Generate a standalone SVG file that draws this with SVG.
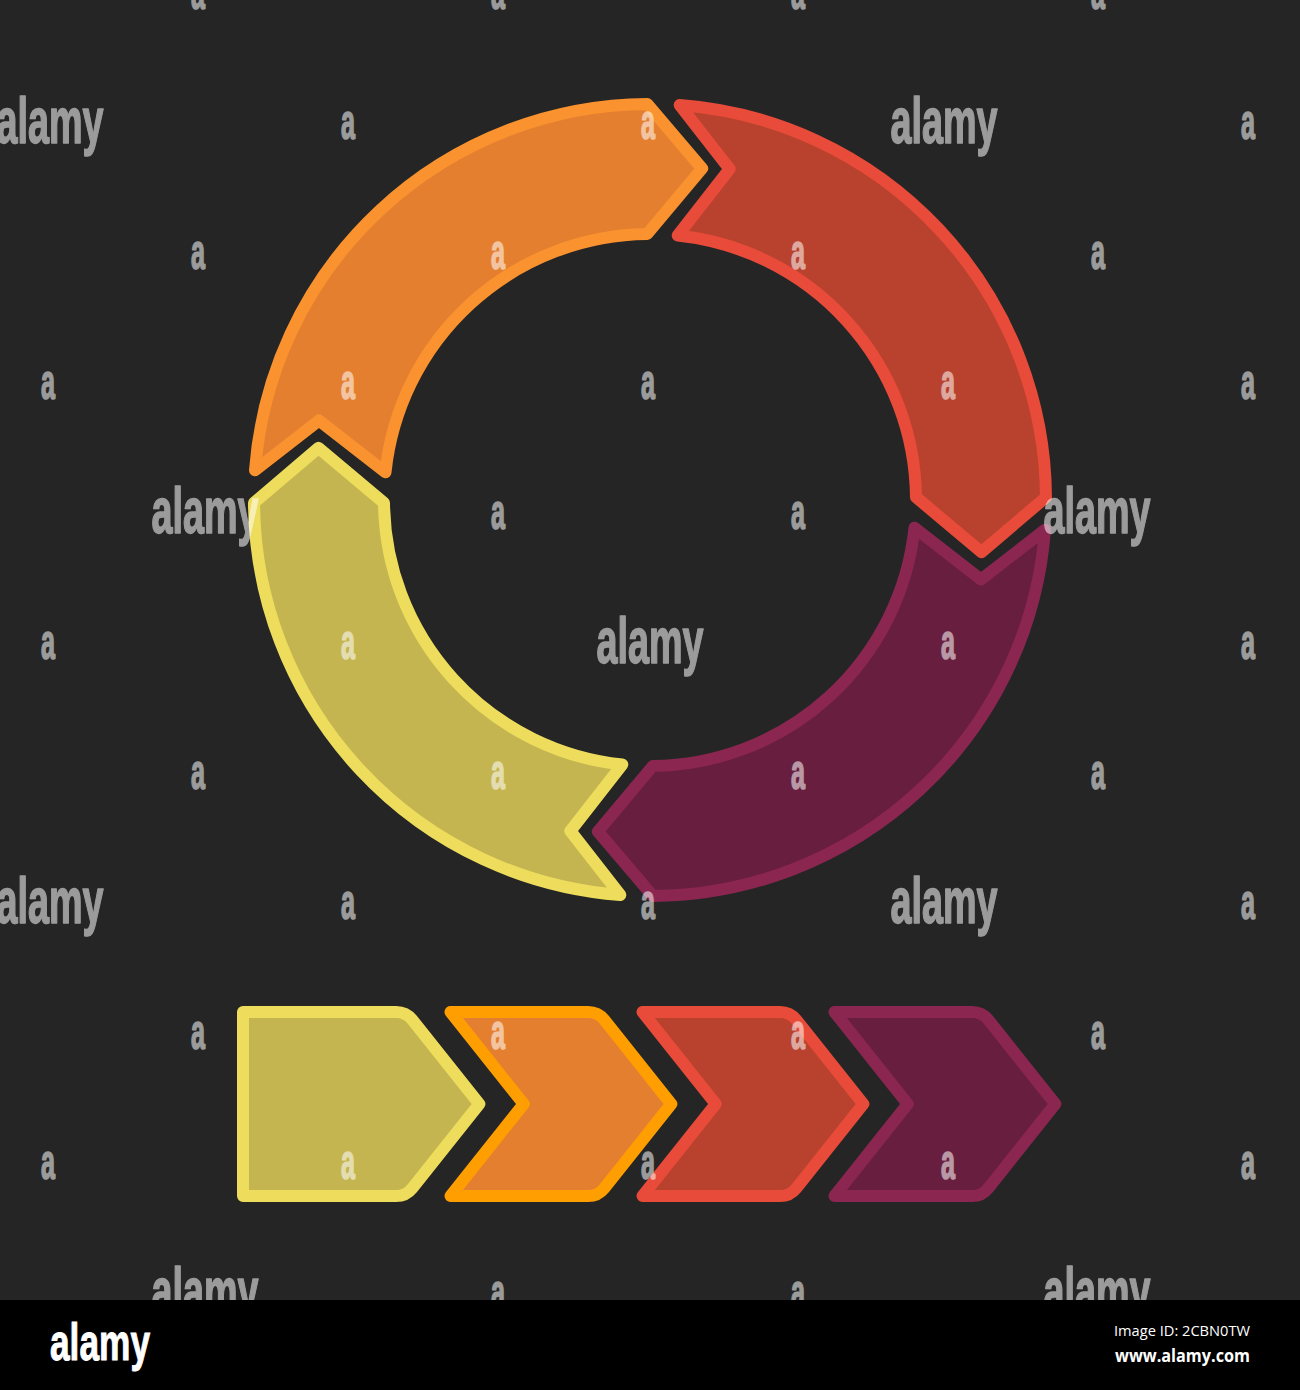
<svg xmlns="http://www.w3.org/2000/svg" xmlns:xlink="http://www.w3.org/1999/xlink" width="1300" height="1390" viewBox="0 0 1300 1390">
  <style>
    .seg { stroke-width: 12; stroke-linejoin: round; }
    .orange { fill: #E57F30; stroke: #F9922F; }
    .red { fill: #B8422E; stroke: #E84B39; }
    .purple { fill: #681E3E; stroke: #8A2650; }
    .yellow { fill: #C5B550; stroke: #EEDD5C; }
    .orange2 { fill: #E57F30; stroke: #FF9E00; }
    .wm { font-family: "Liberation Sans", Arial, sans-serif; font-weight: bold; fill: #ffffff; stroke: #ffffff; stroke-width: 1.6; stroke-linejoin: round; text-anchor: middle; opacity: 0.54; }
    .wmbig { font-size: 64px; }
    .wmsmall { font-size: 50px; }
  </style>
  <defs>
    <path id="ringSeg" d="M 679.7,105 A 396 396 0 0 1 1046,497.2 L 981.5,552.1 L 916,497.2 A 266 266 0 0 0 677.7,235.5 L 729.6,169 Z"/>
    <path id="chev" d="M 12.5,1012 L 150.1,1012 Q 160.1,1012 166.3,1019.8 L 233.3,1104 L 166.3,1188.2 Q 160.1,1196 150.1,1196 L 12.5,1196 L 85.7,1104 Z"/>
  </defs>
  <rect x="0" y="0" width="1300" height="1390" fill="#252525"/>

  <g id="ring-red"><use xlink:href="#ringSeg" href="#ringSeg" class="seg red"/></g>
  <g id="ring-purple"><use xlink:href="#ringSeg" href="#ringSeg" class="seg purple" transform="rotate(90 650 500)"/></g>
  <g id="ring-yellow"><use xlink:href="#ringSeg" href="#ringSeg" class="seg yellow" transform="rotate(180 650 500)"/></g>
  <g id="ring-orange"><use xlink:href="#ringSeg" href="#ringSeg" class="seg orange" transform="rotate(270 650 500)"/></g>

  <g id="step1"><path class="seg yellow" d="M 243,1012 L 396.1,1012 Q 406.1,1012 412.3,1019.8 L 479.3,1104 L 412.3,1188.2 Q 406.1,1196 396.1,1196 L 243,1196 Z"/></g>
  <g id="step2"><use xlink:href="#chev" href="#chev" class="seg orange2" transform="translate(438 0)"/></g>
  <g id="step3"><use xlink:href="#chev" href="#chev" class="seg red" transform="translate(630 0)"/></g>
  <g id="step4"><use xlink:href="#chev" href="#chev" class="seg purple" transform="translate(822 0)"/></g>

  <g id="connectors"></g>

  <g id="watermark" class="wm">
    <!-- row 0 -->
    <text class="wmsmall" x="198" y="9" textLength="14" lengthAdjust="spacingAndGlyphs">a</text>
    <text class="wmsmall" x="498" y="9" textLength="14" lengthAdjust="spacingAndGlyphs">a</text>
    <text class="wmsmall" x="798" y="9" textLength="14" lengthAdjust="spacingAndGlyphs">a</text>
    <text class="wmsmall" x="1098" y="9" textLength="14" lengthAdjust="spacingAndGlyphs">a</text>
    <!-- row 1 -->
    <text class="wmbig" x="50" y="143" textLength="107" lengthAdjust="spacingAndGlyphs">alamy</text>
    <text class="wmbig" x="944" y="143" textLength="107" lengthAdjust="spacingAndGlyphs">alamy</text>
    <text class="wmsmall" x="348" y="139" textLength="14" lengthAdjust="spacingAndGlyphs">a</text>
    <text class="wmsmall" x="648" y="139" textLength="14" lengthAdjust="spacingAndGlyphs">a</text>
    <text class="wmsmall" x="1248" y="139" textLength="14" lengthAdjust="spacingAndGlyphs">a</text>
    <!-- row 2 -->
    <text class="wmsmall" x="198" y="269" textLength="14" lengthAdjust="spacingAndGlyphs">a</text>
    <text class="wmsmall" x="498" y="269" textLength="14" lengthAdjust="spacingAndGlyphs">a</text>
    <text class="wmsmall" x="798" y="269" textLength="14" lengthAdjust="spacingAndGlyphs">a</text>
    <text class="wmsmall" x="1098" y="269" textLength="14" lengthAdjust="spacingAndGlyphs">a</text>
    <!-- row 3 -->
    <text class="wmsmall" x="48" y="399" textLength="14" lengthAdjust="spacingAndGlyphs">a</text>
    <text class="wmsmall" x="348" y="399" textLength="14" lengthAdjust="spacingAndGlyphs">a</text>
    <text class="wmsmall" x="648" y="399" textLength="14" lengthAdjust="spacingAndGlyphs">a</text>
    <text class="wmsmall" x="948" y="399" textLength="14" lengthAdjust="spacingAndGlyphs">a</text>
    <text class="wmsmall" x="1248" y="399" textLength="14" lengthAdjust="spacingAndGlyphs">a</text>
    <!-- row 4 -->
    <text class="wmbig" x="205" y="533" textLength="107" lengthAdjust="spacingAndGlyphs">alamy</text>
    <text class="wmbig" x="1097" y="533" textLength="107" lengthAdjust="spacingAndGlyphs">alamy</text>
    <text class="wmsmall" x="498" y="529" textLength="14" lengthAdjust="spacingAndGlyphs">a</text>
    <text class="wmsmall" x="798" y="529" textLength="14" lengthAdjust="spacingAndGlyphs">a</text>
    <!-- row 5 -->
    <text class="wmbig" x="650" y="663" textLength="107" lengthAdjust="spacingAndGlyphs">alamy</text>
    <text class="wmsmall" x="48" y="659" textLength="14" lengthAdjust="spacingAndGlyphs">a</text>
    <text class="wmsmall" x="348" y="659" textLength="14" lengthAdjust="spacingAndGlyphs">a</text>
    <text class="wmsmall" x="948" y="659" textLength="14" lengthAdjust="spacingAndGlyphs">a</text>
    <text class="wmsmall" x="1248" y="659" textLength="14" lengthAdjust="spacingAndGlyphs">a</text>
    <!-- row 6 -->
    <text class="wmsmall" x="198" y="789" textLength="14" lengthAdjust="spacingAndGlyphs">a</text>
    <text class="wmsmall" x="498" y="789" textLength="14" lengthAdjust="spacingAndGlyphs">a</text>
    <text class="wmsmall" x="798" y="789" textLength="14" lengthAdjust="spacingAndGlyphs">a</text>
    <text class="wmsmall" x="1098" y="789" textLength="14" lengthAdjust="spacingAndGlyphs">a</text>
    <!-- row 7 -->
    <text class="wmbig" x="50" y="923" textLength="107" lengthAdjust="spacingAndGlyphs">alamy</text>
    <text class="wmbig" x="944" y="923" textLength="107" lengthAdjust="spacingAndGlyphs">alamy</text>
    <text class="wmsmall" x="348" y="919" textLength="14" lengthAdjust="spacingAndGlyphs">a</text>
    <text class="wmsmall" x="648" y="919" textLength="14" lengthAdjust="spacingAndGlyphs">a</text>
    <text class="wmsmall" x="1248" y="919" textLength="14" lengthAdjust="spacingAndGlyphs">a</text>
    <!-- row 8 -->
    <text class="wmsmall" x="198" y="1049" textLength="14" lengthAdjust="spacingAndGlyphs">a</text>
    <text class="wmsmall" x="498" y="1049" textLength="14" lengthAdjust="spacingAndGlyphs">a</text>
    <text class="wmsmall" x="798" y="1049" textLength="14" lengthAdjust="spacingAndGlyphs">a</text>
    <text class="wmsmall" x="1098" y="1049" textLength="14" lengthAdjust="spacingAndGlyphs">a</text>
    <!-- row 9 -->
    <text class="wmsmall" x="48" y="1179" textLength="14" lengthAdjust="spacingAndGlyphs">a</text>
    <text class="wmsmall" x="348" y="1179" textLength="14" lengthAdjust="spacingAndGlyphs">a</text>
    <text class="wmsmall" x="648" y="1179" textLength="14" lengthAdjust="spacingAndGlyphs">a</text>
    <text class="wmsmall" x="948" y="1179" textLength="14" lengthAdjust="spacingAndGlyphs">a</text>
    <text class="wmsmall" x="1248" y="1179" textLength="14" lengthAdjust="spacingAndGlyphs">a</text>
    <!-- row 10 -->
    <text class="wmbig" x="205" y="1313" textLength="107" lengthAdjust="spacingAndGlyphs">alamy</text>
    <text class="wmbig" x="1097" y="1313" textLength="107" lengthAdjust="spacingAndGlyphs">alamy</text>
    <text class="wmsmall" x="498" y="1309" textLength="14" lengthAdjust="spacingAndGlyphs">a</text>
    <text class="wmsmall" x="798" y="1309" textLength="14" lengthAdjust="spacingAndGlyphs">a</text>
  </g>

  <g id="footer">
    <rect x="0" y="1300" width="1300" height="90" fill="#000000"/>
    <text x="50" y="1360" font-family="Liberation Sans, Arial, sans-serif" font-weight="bold" font-size="52" fill="#ffffff" stroke="#ffffff" stroke-width="1" textLength="100" lengthAdjust="spacingAndGlyphs">alamy</text>
    <text x="1250" y="1336" font-family="Open Sans, DejaVu Sans, sans-serif" font-size="14" fill="#ffffff" text-anchor="end" textLength="136" lengthAdjust="spacingAndGlyphs">Image ID: 2CBN0TW</text>
    <text x="1250" y="1362" font-family="Open Sans, DejaVu Sans, sans-serif" font-weight="bold" font-size="17" fill="#ffffff" text-anchor="end" textLength="135" lengthAdjust="spacingAndGlyphs">www.alamy.com</text>
  </g>
</svg>
